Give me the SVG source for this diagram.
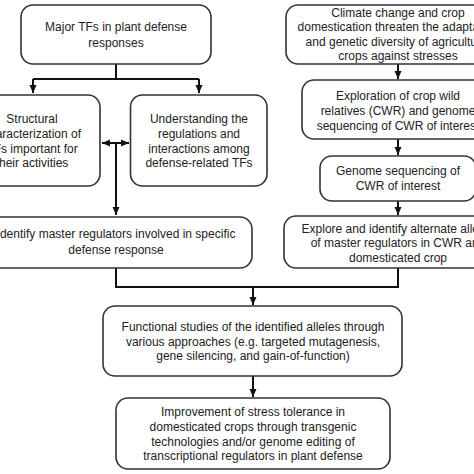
<svg xmlns="http://www.w3.org/2000/svg" width="474" height="474" viewBox="0 0 474 474">
<defs>
<marker id="ah" markerUnits="userSpaceOnUse" markerWidth="8" markerHeight="8" refX="8" refY="4" orient="auto-start-reverse"><path d="M0,0.5 L8,4 L0,7.5 z" fill="#111"/></marker>
<style>
.box{fill:#fff;stroke:#333;stroke-width:1.6}
.t{font-family:"Liberation Sans",Arial,sans-serif;font-size:12px;fill:#222;text-anchor:middle}
.c{fill:none;stroke:#111;stroke-width:2}
</style>
</defs>
<rect width="474" height="474" fill="#fff"/>
<g id="connectors">
<path class="c" d="M116,64 V79 M33,79 H199"/>
<path class="c" d="M33,79 V93" marker-end="url(#ah)"/>
<path class="c" d="M199,79 V93" marker-end="url(#ah)"/>
<path class="c" d="M102,143 H129" marker-start="url(#ah)" marker-end="url(#ah)"/>
<path class="c" d="M116,143 V215" marker-end="url(#ah)"/>
<path class="c" d="M116,268 V287 H398 V268"/>
<path class="c" d="M253,287 V305" marker-end="url(#ah)"/>
<path class="c" d="M253,376 V397" marker-end="url(#ah)"/>
<path class="c" d="M398,64 V79" marker-end="url(#ah)"/>
<path class="c" d="M398,139 V155" marker-end="url(#ah)"/>
<path class="c" d="M398,201 V215" marker-end="url(#ah)"/>
</g>
<g id="n1"><rect class="box" x="21" y="5" width="190" height="59" rx="12"/>
<text class="t" x="116" y="31">Major TFs in plant defense</text>
<text class="t" x="116" y="47">responses</text></g>
<g id="n2"><rect class="box" x="-36" y="95" width="136" height="91" rx="12"/>
<text class="t" x="32" y="123">Structural</text>
<text class="t" x="32" y="138">characterization of</text>
<text class="t" x="32" y="153">TFs important for</text>
<text class="t" x="32" y="167">their activities</text></g>
<g id="n3"><rect class="box" x="130.5" y="95" width="136.5" height="91" rx="12"/>
<text class="t" x="199" y="123">Understanding the</text>
<text class="t" x="199" y="138">regulations and</text>
<text class="t" x="199" y="153">interactions among</text>
<text class="t" x="199" y="167">defense-related TFs</text></g>
<g id="n4"><rect class="box" x="-20" y="217" width="272" height="51" rx="12"/>
<text class="t" x="116" y="238">Identify master regulators involved in specific</text>
<text class="t" x="116" y="254">defense response</text></g>
<g id="n5"><rect class="box" x="286" y="5" width="224" height="59" rx="12"/>
<text class="t" x="398" y="17">Climate change and crop</text>
<text class="t" x="398" y="31">domestication threaten the adaptation</text>
<text class="t" x="398" y="46">and genetic diversity of agricultural</text>
<text class="t" x="398" y="60">crops against stresses</text></g>
<g id="n6"><rect class="box" x="302" y="80" width="192" height="59" rx="12"/>
<text class="t" x="398" y="100">Exploration of crop wild</text>
<text class="t" x="398" y="115">relatives (CWR) and genome</text>
<text class="t" x="398" y="130">sequencing of CWR of interest</text></g>
<g id="n7"><rect class="box" x="320" y="156" width="156" height="45" rx="12"/>
<text class="t" x="398" y="175">Genome sequencing of</text>
<text class="t" x="398" y="190">CWR of interest</text></g>
<g id="n8"><rect class="box" x="284" y="216" width="228" height="52" rx="12"/>
<text class="t" x="398" y="233">Explore and identify alternate alleles</text>
<text class="t" x="398" y="247">of master regulators in CWR and</text>
<text class="t" x="398" y="262">domesticated crop</text></g>
<g id="n9"><rect class="box" x="103" y="306" width="299" height="70" rx="12"/>
<text class="t" x="253" y="331">Functional studies of the identified alleles through</text>
<text class="t" x="253" y="346">various approaches (e.g. targeted mutagenesis,</text>
<text class="t" x="253" y="360">gene silencing, and gain-of-function)</text></g>
<g id="n10"><rect class="box" x="116" y="398" width="274" height="71" rx="12"/>
<text class="t" x="253" y="416">Improvement of stress tolerance in</text>
<text class="t" x="253" y="431">domesticated crops through transgenic</text>
<text class="t" x="253" y="446">technologies and/or genome editing of</text>
<text class="t" x="253" y="460">transcriptional regulators in plant defense</text></g>
</svg>
